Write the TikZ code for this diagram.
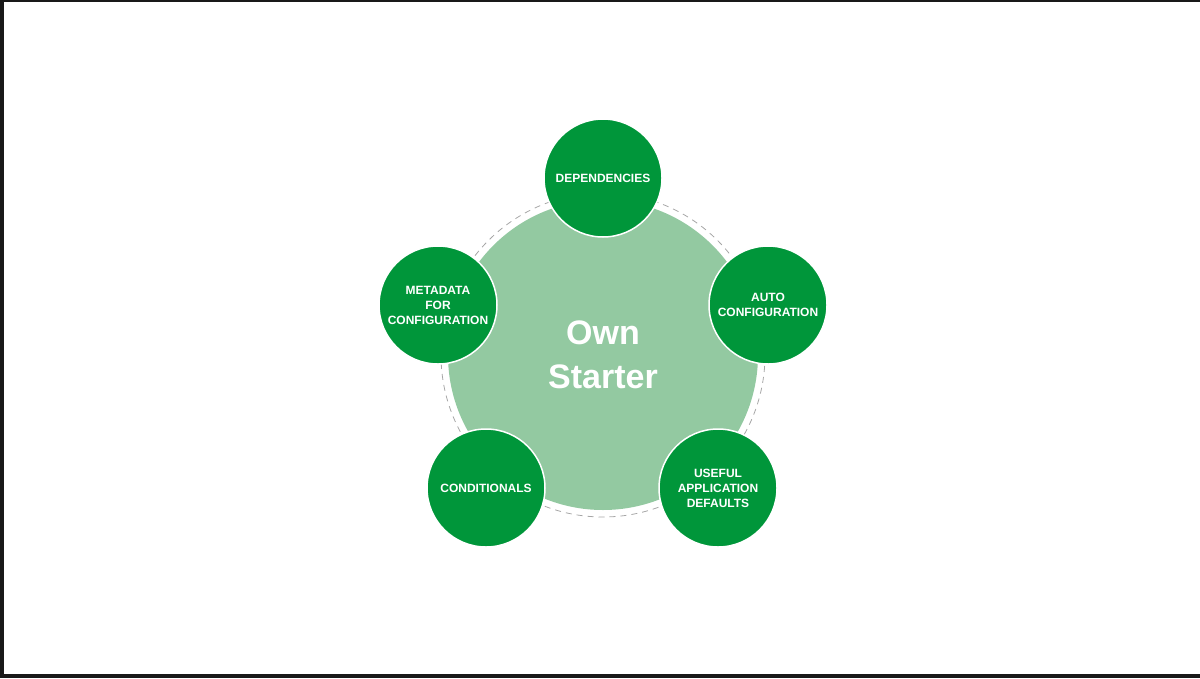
\documentclass[tikz,border=0pt]{standalone}
\usepackage{fontspec}
\setmainfont{Liberation Sans}
\definecolor{dg}{HTML}{00963A}
\definecolor{lg}{HTML}{93C9A1}
\begin{document}
\begin{tikzpicture}[x=1pt,y=-1pt,
  sat/.style={circle,fill=dg,draw=white,line width=1.5pt,minimum size=118pt,inner sep=0pt,text=white,font=\bfseries\fontsize{12}{15}\selectfont,align=center}]
\useasboundingbox (0,0) rectangle (1200,678);
\fill[black!90] (0,0) rectangle (1200,2);
\fill[black!90] (0,0) rectangle (4,678);
\fill[black!90] (0,674) rectangle (1200,678);
\coordinate (c) at (603,355);
\draw[gray!70,dashed,dash pattern=on 6pt off 5pt,line width=0.8pt] (c) circle[radius=162];
\node[circle,fill=lg,minimum size=310pt,inner sep=0pt,text=white,font=\bfseries\fontsize{34}{44}\selectfont,align=center] (core) at (c) {Own\\Starter};
\node[sat] (dep) at (603,178) {DEPENDENCIES};
\node[sat] (auto) at (768,305) {AUTO\\CONFIGURATION};
\node[sat] (use) at (718,488) {USEFUL\\APPLICATION\\DEFAULTS};
\node[sat] (cond) at (486,488) {CONDITIONALS};
\node[sat] (meta) at (438,305) {METADATA\\FOR\\CONFIGURATION};
\end{tikzpicture}
\end{document}
